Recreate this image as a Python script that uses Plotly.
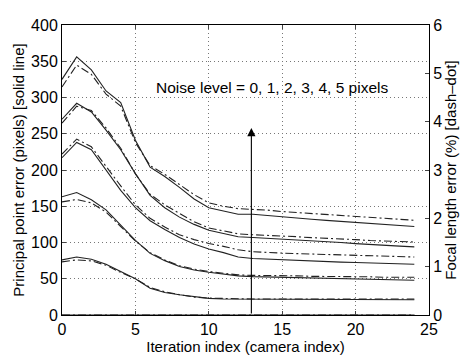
import plotly.graph_objects as go

iterations = list(range(25))
noise_levels = [0, 1, 2, 3, 4, 5]

# Principal point error (pixels) - solid lines
pp_noise0 = [0] * 25
pp_noise1 = [76, 80, 77, 70, 60, 50, 37, 31, 28, 25, 23, 22, 22, 21.5, 21.5, 21.5, 21, 21, 21, 21, 21, 21, 21, 21, 21]
pp_noise2 = [163, 169, 159, 145, 124, 103, 85, 75, 67, 62, 59, 56, 54, 53, 52.5, 52, 51.5, 51, 50.5, 50, 49.5, 49, 48.5, 48, 48]
pp_noise3 = [217, 238, 228, 200, 172, 148, 130, 118, 107, 98, 91, 86, 80, 78, 77, 76, 75, 74.5, 74, 73, 72.5, 72, 71, 70.5, 70]
pp_noise4 = [270, 292, 280, 255, 228, 195, 165, 148, 135, 125, 117, 112, 108, 107, 106, 104.5, 103, 102, 101, 100, 98.5, 97, 96, 95, 94]
pp_noise5 = [325, 356, 338, 309, 293, 241, 204, 191, 176, 160, 148, 143, 139, 139, 137, 135.5, 134, 132, 130.5, 129, 127, 126, 124.5, 123, 122]

# Focal length error (%) - dash-dot lines
fl_noise0 = [0] * 25
fl_noise1 = [1.10, 1.14, 1.12, 1.03, 0.88, 0.75, 0.57, 0.48, 0.42, 0.37, 0.35, 0.34, 0.33, 0.33, 0.33, 0.33, 0.33, 0.33, 0.33, 0.33, 0.33, 0.33, 0.33, 0.33, 0.33]
fl_noise2 = [2.34, 2.39, 2.32, 2.13, 1.83, 1.53, 1.29, 1.14, 1.02, 0.95, 0.90, 0.87, 0.83, 0.82, 0.82, 0.81, 0.81, 0.80, 0.80, 0.79, 0.79, 0.79, 0.78, 0.78, 0.78]
fl_noise3 = [3.33, 3.64, 3.48, 3.07, 2.67, 2.28, 2.00, 1.82, 1.66, 1.56, 1.48, 1.42, 1.35, 1.31, 1.29, 1.28, 1.27, 1.26, 1.25, 1.24, 1.23, 1.22, 1.21, 1.21, 1.20]
fl_noise4 = [3.97, 4.32, 4.23, 3.87, 3.45, 2.92, 2.50, 2.28, 2.10, 1.93, 1.80, 1.74, 1.68, 1.66, 1.65, 1.63, 1.62, 1.60, 1.59, 1.57, 1.56, 1.54, 1.53, 1.52, 1.51]
fl_noise5 = [4.72, 5.17, 4.98, 4.57, 4.32, 3.57, 3.09, 2.91, 2.70, 2.49, 2.32, 2.25, 2.20, 2.19, 2.17, 2.14, 2.12, 2.10, 2.08, 2.05, 2.04, 2.02, 2.00, 1.98, 1.96]

pp_series = [pp_noise0, pp_noise1, pp_noise2, pp_noise3, pp_noise4, pp_noise5]
fl_series = [fl_noise0, fl_noise1, fl_noise2, fl_noise3, fl_noise4, fl_noise5]

x_ticks = [0, 5, 10, 15, 20, 25]
y1_ticks = [0, 50, 100, 150, 200, 250, 300, 350, 400]
y2_ticks = [0, 1, 2, 3, 4, 5, 6]

FONT = "Liberation Sans, Arial, Helvetica, sans-serif"
GRID_DASH = "1px,3px"

fig = go.Figure()
for lvl, pp in zip(noise_levels, pp_series):
    fig.add_trace(go.Scatter(x=iterations, y=pp, mode="lines", name=f"pp {lvl}",
                             line=dict(color="#222", width=1.1), yaxis="y"))
for lvl, fl in zip(noise_levels, fl_series):
    fig.add_trace(go.Scatter(x=iterations, y=fl, mode="lines", name=f"fl {lvl}",
                             line=dict(color="#222", width=1.1, dash="8px,3px,2px,3px"), yaxis="y2"))

fig.add_annotation(x=12.9, y=258, ax=12.9, ay=0, xref="x", yref="y", axref="x", ayref="y",
                   text="", showarrow=True, arrowhead=2, arrowsize=1.5, arrowwidth=1.1,
                   arrowcolor="black")
fig.add_annotation(x=14.3, y=314, xref="x", yref="y", text="Noise level = 0, 1, 2, 3, 4, 5 pixels",
                   showarrow=False, font=dict(family=FONT, size=15.5, color="black"))

fig.update_layout(
    width=466, height=347,
    margin=dict(l=54, r=45, t=17, b=40),
    paper_bgcolor="white", plot_bgcolor="white",
    showlegend=False,
    font=dict(family=FONT, size=16, color="black"),
    xaxis=dict(range=[0, 25], tickvals=x_ticks, showgrid=True, gridcolor="#777",
               griddash=GRID_DASH, gridwidth=1, showline=True, linecolor="black", linewidth=1,
               mirror="ticks", ticks="inside", ticklen=4, zeroline=False, automargin=False,
               title=dict(text="Iteration index (camera index)", font=dict(size=15), standoff=0),
               tickfont=dict(size=16)),
    yaxis=dict(range=[0, 400], tickvals=y1_ticks, showgrid=True, gridcolor="#777",
               griddash=GRID_DASH, gridwidth=1, showline=True, linecolor="black", linewidth=1,
               ticks="inside", ticklen=4, zeroline=False, automargin=False,
               title=dict(text="Principal point error (pixels) [solid line]", font=dict(size=15), standoff=2),
               tickfont=dict(size=16)),
    yaxis2=dict(range=[0, 6], tickvals=y2_ticks, overlaying="y", side="right", showgrid=False,
                showline=True, linecolor="black", linewidth=1, ticks="inside", ticklen=4,
                zeroline=False, automargin=False,
                title=dict(text="Focal length error (%) [dash\u2013dot]", font=dict(size=15), standoff=2),
                tickfont=dict(size=16)),
)

fig.write_html("out.html")
